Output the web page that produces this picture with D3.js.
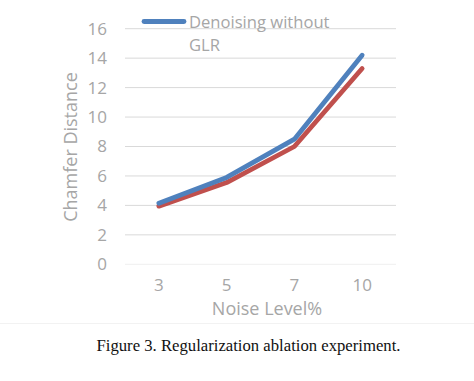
<!DOCTYPE html>
<html><head><meta charset="utf-8">
<script src="https://cdn.jsdelivr.net/npm/d3@7"></script>
<style>body{margin:0;background:#fff}svg{display:block}</style>
</head><body>
<svg id="c" width="474" height="381"></svg>
<script>
const categories = ["3","5","7","10"];
const seriesBlue = [4.15, 5.9, 8.5, 14.2];
const seriesRed = [3.95, 5.55, 8.0, 13.3];
const yTicks = [0,2,4,6,8,10,12,14,16];
const legendLabel = ["Denoising without","GLR"];

const svg = d3.select("#c");
const font = "Open Sans, sans-serif";
const grey = "#a6a6a6";
const x = d3.scaleBand().domain(categories).range([125, 396]);
const y = d3.scaleLinear().domain([0,16]).range([264.3, 28.7]);

// gridlines
svg.append("g").selectAll("line").data(yTicks).join("line")
  .attr("x1",125).attr("x2",396)
  .attr("y1",d=>y(d)).attr("y2",d=>y(d))
  .attr("stroke", d=> d===0 ? "#efefef" : "#d9d9d9").attr("stroke-width",1);

// y axis labels
const ya = svg.append("g").attr("transform","translate(107,0)")
  .call(d3.axisLeft(y).tickValues(yTicks).tickSize(0).tickPadding(0));
ya.select(".domain").remove();
ya.selectAll("text").attr("fill",grey).style("font-family",font).style("font-size","17px");

// x axis labels
const xa = svg.append("g").attr("transform","translate(0,279)")
  .call(d3.axisBottom(x).tickSize(0).tickPadding(0));
xa.select(".domain").remove();
xa.selectAll("text").attr("fill",grey).style("font-family",font).style("font-size","17px");

// axis titles
svg.append("text").attr("x",267).attr("y",315).attr("text-anchor","middle")
  .attr("fill",grey).style("font-family",font).style("font-size","18px").text("Noise Level%");
svg.append("text").attr("transform","translate(77,147) rotate(-90)").attr("text-anchor","middle")
  .attr("fill",grey).style("font-family",font).style("font-size","18px").text("Chamfer Distance");

// lines
const line = d3.line().x((d,i)=>x(categories[i])+x.bandwidth()/2).y(d=>y(d));
svg.append("path").datum(seriesRed).attr("d",line).attr("fill","none")
  .attr("stroke","#c0504d").attr("stroke-width",4.8).attr("stroke-linecap","round").attr("stroke-linejoin","round");
svg.append("path").datum(seriesBlue).attr("d",line).attr("fill","none")
  .attr("stroke","#4f81bd").attr("stroke-width",4.8).attr("stroke-linecap","round").attr("stroke-linejoin","round");

// legend
svg.append("line").attr("x1",144).attr("x2",184).attr("y1",21.5).attr("y2",21.5)
  .attr("stroke","#4f81bd").attr("stroke-width",4.8).attr("stroke-linecap","round");
svg.append("text").attr("x",189).attr("y",28).attr("fill",grey).style("font-family",font).style("font-size","16.6px").text(legendLabel[0]);
svg.append("text").attr("x",189).attr("y",51).attr("fill",grey).style("font-family",font).style("font-size","16.6px").text(legendLabel[1]);

// separator
svg.append("line").attr("x1",0).attr("x2",474).attr("y1",323.5).attr("y2",323.5).attr("stroke","#f2f2f2");

// caption
svg.append("text").attr("x",248.5).attr("y",351).attr("text-anchor","middle").attr("fill","#111")
  .style("font-family","Liberation Serif, Times New Roman, serif").style("font-size","16.7px")
  .text("Figure 3. Regularization ablation experiment.");
</script>
</body></html>
